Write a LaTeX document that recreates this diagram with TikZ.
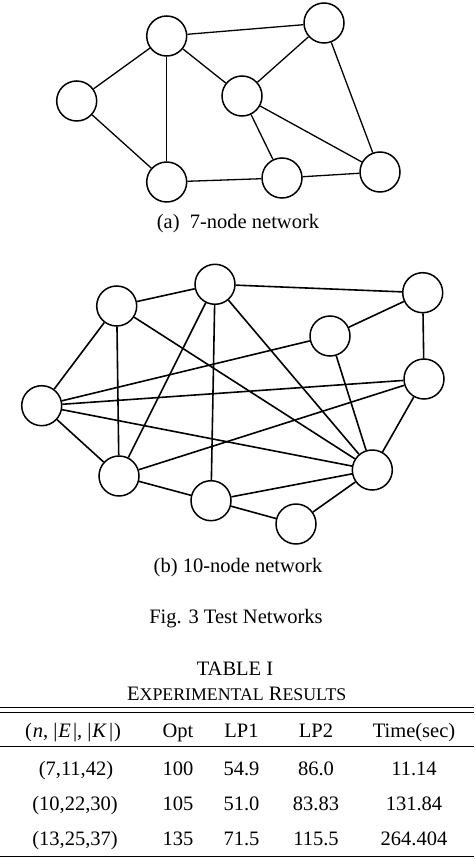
\documentclass[tikz,border=0pt]{standalone}
\usepackage{fontspec}
\setmainfont{Liberation Serif}
\newcommand{\scfont}{\fontsize{17.8}{20}\selectfont}
\begin{document}
\begin{tikzpicture}[x=1pt,y=-1pt,
  vtx/.style={circle,draw,line width=1.5pt,minimum size=40pt,inner sep=0pt},
  edge/.style={line width=1.3pt},
  edgeb/.style={line width=1.6pt},
  txt/.style={font=\fontsize{20.5}{24}\selectfont,inner sep=0pt,anchor=base},
  rule/.style={line width=1pt}]
\useasboundingbox (0,0) rectangle (474,861);
% 7-node network
\node[vtx] (a1) at (166.7,36) {};
\node[vtx] (a2) at (324,23) {};
\node[vtx] (a3) at (76.7,101) {};
\node[vtx] (a4) at (242,96) {};
\node[vtx] (a5) at (166.7,182) {};
\node[vtx] (a6) at (282,178) {};
\node[vtx] (a7) at (380,172) {};
\foreach \u/\v in {a1/a2,a1/a3,a1/a5,a1/a4,a2/a4,a2/a7,a3/a5,a4/a6,a4/a7,a5/a6,a6/a7}
  \draw[edge] (\u) -- (\v);
\node[txt] (capa) at (238,228.5) {(a)\ \ 7-node network};
% 10-node network
\node[vtx] (b1) at (215,284.3) {};
\node[vtx] (b2) at (116.7,306) {};
\node[vtx] (b3) at (422.7,292.7) {};
\node[vtx] (b4) at (330,336) {};
\node[vtx] (b5) at (424,379) {};
\node[vtx] (b6) at (41.7,405.7) {};
\node[vtx] (b7) at (119,476) {};
\node[vtx] (b8) at (211,500.7) {};
\node[vtx] (b9) at (372.3,470) {};
\node[vtx] (b10) at (296,524) {};
\foreach \u/\v in {b2/b1,b1/b3,b3/b4,b3/b5,b2/b6,b2/b7,b2/b9,b1/b7,b1/b8,b1/b9,b4/b6,b4/b9,b5/b6,b5/b7,b5/b9,b6/b7,b6/b9,b7/b8,b8/b9,b8/b10,b10/b9}
  \draw[edgeb] (\u) -- (\v);
\node[txt] (capb) at (238,572) {(b) 10-node network};
\node[txt] (fig) at (236,623.3) {Fig. 3 Test Networks};
% Table
\node[txt] (tab) at (235,675) {TABLE I};
\node[txt] (tabt) at (236.7,700) {E{\scfont XPERIMENTAL} R{\scfont ESULTS}};
\draw[rule] (0,707.3) -- (474,707.3);
\draw[rule] (0,712.3) -- (474,712.3);
\draw[rule] (0,746.7) -- (474,746.7);
\draw[rule] (0,856) -- (474,856);
\node[txt] (h1) at (73,737.3) {(\kern1pt\textit{n},\ |\kern1pt\textit{E}\kern2pt|,\ |\kern1pt\textit{K}\kern2pt|\kern1pt)};
\node[txt] (h2) at (178,737.3) {Opt};
\node[txt] (h3) at (241.5,737.3) {LP1};
\node[txt] (h4) at (316,737.3) {LP2};
\node[txt] (h5) at (414,737.3) {Time(sec)};
\node[txt] (r11) at (76,775) {(7,11,42)};
\node[txt] (r12) at (178,775) {100};
\node[txt] (r13) at (241.5,775) {54.9};
\node[txt] (r14) at (316,775) {86.0};
\node[txt] (r15) at (414,775) {11.14};
\node[txt] (r21) at (75,810) {(10,22,30)};
\node[txt] (r22) at (178,810) {105};
\node[txt] (r23) at (241.5,810) {51.0};
\node[txt] (r24) at (316,810) {83.83};
\node[txt] (r25) at (414,810) {131.84};
\node[txt] (r31) at (75,845.7) {(13,25,37)};
\node[txt] (r32) at (178,845.7) {135};
\node[txt] (r33) at (241.5,845.7) {71.5};
\node[txt] (r34) at (316,845.7) {115.5};
\node[txt] (r35) at (414,845.7) {264.404};
\end{tikzpicture}
\end{document}
